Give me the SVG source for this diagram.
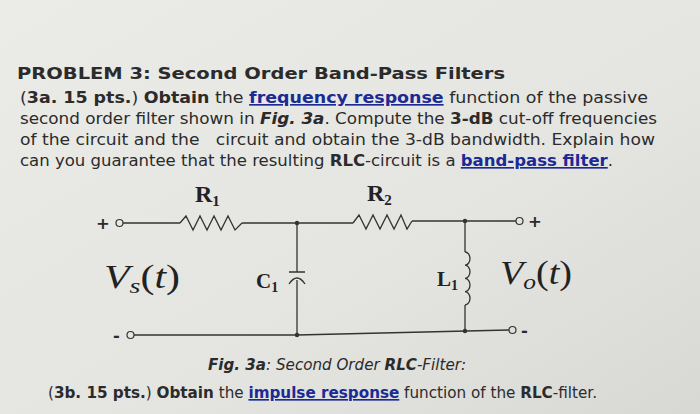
<svg xmlns="http://www.w3.org/2000/svg" width="700" height="414" viewBox="0 0 700 414">
<defs>
<linearGradient id="bg" x1="0" y1="0" x2="1" y2="1">
<stop offset="0" stop-color="#ebebe8"/><stop offset="0.6" stop-color="#e4e4e1"/><stop offset="1" stop-color="#d8d8d5"/>
</linearGradient>
<style>
.t{font-family:"DejaVu Sans",sans-serif;font-size:16.5px;fill:#2b2b2b}
.b{font-weight:bold}
.l{fill:#1c2a96;font-weight:bold;text-decoration:underline}
.w{fill:none;stroke:#333;stroke-width:1.3}
.m{font-family:"Liberation Serif",serif;fill:#222}
.c{fill:none;stroke:#333;stroke-width:1.2}
</style>
</defs>
<rect width="700" height="414" fill="url(#bg)"/>
<text class="t b" x="17" y="79" font-size="18" textLength="488" lengthAdjust="spacingAndGlyphs">PROBLEM 3: Second Order Band-Pass Filters</text>
<text class="t" x="20" y="103" textLength="628" lengthAdjust="spacingAndGlyphs">(<tspan class="b">3a. 15 pts.</tspan>) <tspan class="b">Obtain</tspan> the <tspan class="l">frequency response</tspan> function of the passive</text>
<text class="t" x="20" y="124" textLength="637" lengthAdjust="spacingAndGlyphs">second order filter shown in <tspan class="b" font-style="italic">Fig. 3a</tspan>. Compute the <tspan class="b">3-dB</tspan> cut-off frequencies</text>
<text class="t" x="20" y="145" xml:space="preserve" textLength="635" lengthAdjust="spacingAndGlyphs">of the circuit and the   circuit and obtain the 3-dB bandwidth. Explain how</text>
<text class="t" x="20" y="166" textLength="593" lengthAdjust="spacingAndGlyphs">can you guarantee that the resulting <tspan class="b">RLC</tspan>-circuit is a <tspan class="l">band-pass filter</tspan>.</text>
<g id="wires" class="w">
<path d="M123 223 H180 M242 223 H353 M412 221 H516 M465 221 V252 M465 305 V331 M297 223 V272 M297 280 V335 M134 335 L297 335 L509 330"/>
</g>
<g id="terminals" class="c">
<circle cx="119.5" cy="223" r="3.5"/><circle cx="130.5" cy="335" r="3.5"/><circle cx="519.5" cy="221" r="3.5"/><circle cx="512.5" cy="330" r="3.5"/>
<circle cx="297" cy="223" r="1.6" fill="#333"/><circle cx="465" cy="221" r="1.6" fill="#333"/><circle cx="297" cy="335" r="1.6" fill="#333"/><circle cx="465" cy="331" r="1.6" fill="#333"/>
</g>
<g id="R1"><path class="w" d="M180 223 L186 216 L193 230 L200 216 L207 230 L214 216 L221 230 L228 216 L235 230 L242 223"/><text class="m" x="195" y="202" font-size="24" font-weight="bold">R<tspan font-size="15" dy="4">1</tspan></text></g>
<g id="R2"><path class="w" d="M353 223 L359 215 L366 229 L373 215 L380 229 L387 215 L394 229 L401 215 L407 229 L412 221"/><text class="m" x="367" y="201" font-size="24" font-weight="bold">R<tspan font-size="15" dy="4">2</tspan></text></g>
<g id="C1"><path class="w" d="M289 272 H305 M289 284 Q297 272 305 284"/><text class="m" x="256" y="288" font-size="21" font-weight="bold">C<tspan font-size="14" dy="4">1</tspan></text></g>
<g id="L1"><path class="w" d="M465 252 a5 6.6 0 0 1 0 13.2 a5 6.6 0 0 1 0 13.2 a5 6.6 0 0 1 0 13.2 a5 6.6 0 0 1 0 13.2"/><text class="m" x="437" y="286" font-size="21" font-weight="bold">L<tspan font-size="14" dy="4">1</tspan></text></g>
<g id="labels">
<text class="m" x="104" y="288" font-size="33" font-style="italic" textLength="76" lengthAdjust="spacingAndGlyphs">V<tspan font-size="22" dy="5">s</tspan><tspan dy="-5" font-style="normal">(</tspan>t<tspan font-style="normal">)</tspan></text>
<text class="m" x="500" y="284" font-size="33" font-style="italic" textLength="72" lengthAdjust="spacingAndGlyphs">V<tspan font-size="22" dy="5">o</tspan><tspan dy="-5" font-style="normal">(</tspan>t<tspan font-style="normal">)</tspan></text>
<text class="t" x="96" y="229" font-size="17" font-weight="bold">+</text>
<text class="t" x="528" y="227" font-size="17" font-weight="bold">+</text>
<text class="t" x="113" y="341" font-size="17" font-weight="bold">-</text>
<text class="t" x="521" y="336" font-size="17" font-weight="bold">-</text>
</g>
<text class="t" x="208" y="370" font-size="15" font-style="italic" textLength="258" lengthAdjust="spacingAndGlyphs"><tspan class="b">Fig. 3a</tspan>: Second Order <tspan class="b">RLC</tspan>-Filter:</text>
<text class="t" x="48" y="398" font-size="16" textLength="549" lengthAdjust="spacingAndGlyphs">(<tspan class="b">3b. 15 pts.</tspan>) <tspan class="b">Obtain</tspan> the <tspan class="l">impulse response</tspan> function of the <tspan class="b">RLC</tspan>-filter.</text>
</svg>
